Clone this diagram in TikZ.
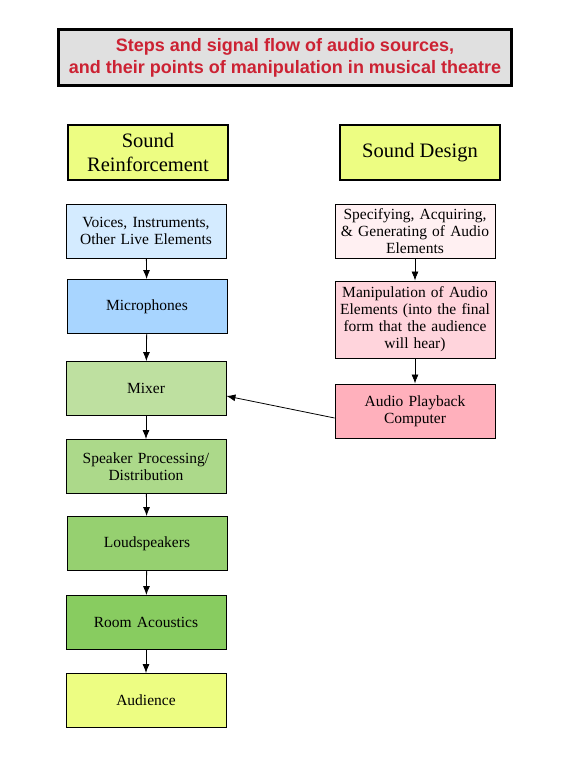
\documentclass[tikz,border=0pt]{standalone}
\usepackage{fontspec}
\setmainfont{Liberation Serif}
\newfontfamily\titlefont{Liberation Sans}
\usetikzlibrary{arrows.meta}
\definecolor{titlegray}{HTML}{E0E0E0}
\definecolor{titlered}{HTML}{CC2233}
\definecolor{hdryellow}{HTML}{EDFD82}
\definecolor{cVoices}{HTML}{D4EBFF}
\definecolor{cMic}{HTML}{A8D5FF}
\definecolor{cMixer}{HTML}{BEE0A0}
\definecolor{cSpk}{HTML}{ACD98A}
\definecolor{cLoud}{HTML}{96D070}
\definecolor{cRoom}{HTML}{88CC60}
\definecolor{cSpec}{HTML}{FFF0F2}
\definecolor{cManip}{HTML}{FFD4DC}
\definecolor{cPlay}{HTML}{FFB0BC}
\tikzset{
  stepbox/.style={draw=black, line width=0.9pt, minimum width=160pt, minimum height=54pt,
    align=center, inner sep=1pt, font=\fontsize{15.5}{17}\selectfont, text width=158pt},
  hdrbox/.style={draw=black, line width=2pt, fill=hdryellow, minimum width=160pt, minimum height=55pt,
    align=center, font=\fontsize{20.5}{24}\selectfont},
  flow/.style={-{Latex[length=9pt,width=7pt]}, line width=0.8pt},
}
\begin{document}
\begin{tikzpicture}[x=1pt,y=-1pt]
\useasboundingbox (0,0) rectangle (588,768);
\node[draw=black, line width=3pt, fill=titlegray, minimum width=453pt, minimum height=56pt,
  align=center, text=titlered, font=\titlefont\bfseries\fontsize{18}{22}\selectfont]
  (title) at (285,57.5) {Steps and signal flow of audio sources,\\and their points of manipulation in musical theatre};
\node[hdrbox] (sr) at (148,152.5) {Sound\\Reinforcement};
\node[hdrbox] (sd) at (420,152.5) {Sound Design};

\node[stepbox, fill=cVoices] (voices) at (146,231) {Voices, Instruments,\\Other Live Elements};
\node[stepbox, fill=cMic] (mic) at (147,306.5) {Microphones};
\node[stepbox, fill=cMixer] (mixer) at (146,388.5) {Mixer};
\node[stepbox, fill=cSpk] (spk) at (146,466.5) {Speaker Processing/\\Distribution};
\node[stepbox, fill=cLoud] (loud) at (147,543.5) {Loudspeakers};
\node[stepbox, fill=cRoom] (room) at (146,622.5) {Room Acoustics};
\node[stepbox, fill=hdryellow] (aud) at (146,700.5) {Audience};

\node[stepbox, fill=cSpec] (spec) at (415,231) {Specifying, Acquiring,\\\& Generating of Audio\\Elements};
\node[stepbox, fill=cManip, minimum height=77pt] (manip) at (415,319.5) {Manipulation of Audio\\Elements (into the final\\form that the audience\\will hear)};
\node[stepbox, fill=cPlay] (play) at (415,411) {Audio Playback\\Computer};

\draw[flow] (voices) -- (mic);
\draw[flow] (mic) -- (mixer);
\draw[flow] (mixer) -- (spk);
\draw[flow] (spk) -- (loud);
\draw[flow] (loud) -- (room);
\draw[flow] (room) -- (aud);
\draw[flow] (spec) -- (manip);
\draw[flow] (manip) -- (play);
\draw[flow] ([yshift=-7pt]play.west) -- ([yshift=-7.5pt]mixer.east);
\end{tikzpicture}
\end{document}
